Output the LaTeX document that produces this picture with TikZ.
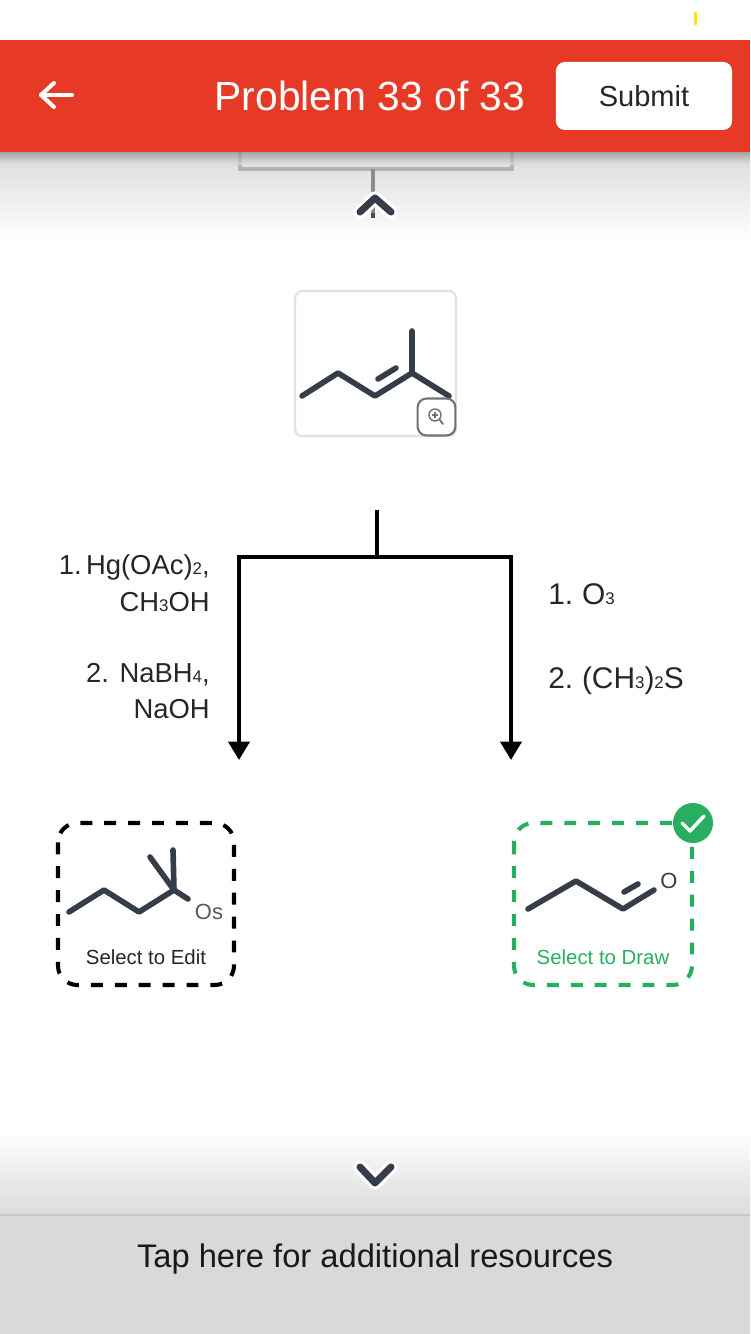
\documentclass[tikz,border=0pt]{standalone}
\usepackage{fontspec}
\setmainfont{Liberation Sans}
\usetikzlibrary{arrows.meta}
\definecolor{hdred}{HTML}{E63A26}
\definecolor{bond}{HTML}{353D49}
\definecolor{okgreen}{HTML}{27AE60}
\newcommand{\lowd}[1]{{\fontsize{9.6pt}{9.6pt}\selectfont #1}}
\tikzset{
  bondline/.style={draw=bond,line width=3.2pt,line cap=round,line join=round},
  treeline/.style={draw=black,line width=2.2pt},
  reagent/.style={font=\fontsize{15.6pt}{15.6pt}\selectfont,inner sep=0pt,text=black!85},
  reagentb/.style={font=\fontsize{17pt}{17pt}\selectfont,inner sep=0pt,text=black!85},
  boxlabel/.style={font=\fontsize{11.6pt}{11.6pt}\selectfont,inner sep=0pt},
  atomlabel/.style={font=\fontsize{12.5pt}{12.5pt}\selectfont,inner sep=0pt,text=bond},
  dashbox/.style={line width=2.3pt,rounded corners=11pt,dash pattern=on 6.8pt off 6.8pt},
  chevron/.style={bondline,line width=4pt},
  chevhalo/.style={draw=white,line width=7.5pt,line cap=round,line join=round}
}
\begin{document}
\begin{tikzpicture}[x=0.02cm,y=-0.02cm]
\useasboundingbox (0,0) rectangle (750,1334);

% fades under the header and above the footer
\shade[top color=black!12,bottom color=white] (0,165) rectangle (750,240);
\shade[top color=white,bottom color=black!14] (0,1130) rectangle (750,1215);
\fill[black!15] (0,1215) rectangle (750,1334);
\draw[draw=blue!10!black!22,line width=1.2pt] (0,1215) -- (750,1215);

% part of the previous step
\draw[draw=black!30,line width=2.2pt] (240,152) -- (240,169) -- (512,169) -- (512,152);
\draw[draw=black!45,line width=2.2pt] (373,169) -- (373,218);
\shade[top color=black!45,bottom color=black!12,opacity=.8] (0,152) rectangle (750,165);

% header
\fill[hdred] (0,40) rectangle (750,152);
\node[font=\fontsize{23.2pt}{23.2pt}\selectfont,text=white,inner sep=0pt] (title) at (370,96) {Problem 33 of 33};
\node[fill=white,rounded corners=5pt,minimum width=100.2pt,minimum height=38.7pt,inner sep=0pt,
  font=\fontsize{16.5pt}{16.5pt}\selectfont,text=black!85] (submit) at (644,96) {Submit};
\coordinate (backa) at (72,95);
\coordinate (backb) at (41,95);
\draw[draw=white,line width=2.3pt,line cap=round,line join=round] (backa) -- (backb);
\draw[draw=white,line width=2.3pt,line cap=round,line join=round] (54,83) -- (backb) -- (54,107);
\fill[yellow!90!orange] (694,12) rectangle (697,25);

% chevrons
\draw[chevhalo] (360,212) -- (375,198) -- (391,212);
\draw[draw=black!70,line width=2.2pt] (373,213) -- (373,218);
\draw[chevron] (360,212) -- (375,198) -- (391,212);
\draw[chevhalo] (360,1167) -- (375,1183) -- (391,1167);
\draw[chevron] (360,1167) -- (375,1183) -- (391,1167);

% starting alkene
\node[draw=black!12,line width=1.2pt,rounded corners=4pt,minimum width=91.5pt,minimum height=82.5pt,inner sep=0pt] (card) at (375.5,363.5) {};
\coordinate (a1) at (302,396);
\coordinate (a2) at (338,373);
\coordinate (a3) at (375,396);
\coordinate (a4) at (412,373);
\coordinate (a5) at (412,331);
\coordinate (a6) at (449,396);
\coordinate (a7) at (378,379);
\coordinate (a8) at (396,368);
\draw[bondline] (a1) -- (a2) -- (a3) -- (a4) -- (a5);
\draw[bondline] (a4) -- (a6);
\draw[bondline] (a7) -- (a8);
\node[draw=black!55,fill=white,line width=1.2pt,rounded corners=5pt,minimum width=21.5pt,minimum height=21pt,inner sep=0pt] (zoombtn) at (436.5,417) {};
\draw[draw=black!55,line width=.8pt] (435,415) circle (6);
\draw[draw=black!55,line width=1pt,line cap=round] (439.5,419.5) -- (443,424);
\draw[draw=black!55,line width=.6pt] (432,415) -- (438,415) (435,412) -- (435,418);

% reaction tree
\coordinate (treetop) at (377,510);
\coordinate (treemid) at (377,557);
\coordinate (treel) at (239,557);
\coordinate (treer) at (511,557);
\coordinate (tipl) at (239,760);
\coordinate (tipr) at (511,760);
\draw[treeline] (treetop) -- (treemid);
\draw[treeline,-{Triangle[length=10.5pt,width=12pt]}] (treemid) -- (treel) -- (tipl);
\draw[treeline,-{Triangle[length=10.5pt,width=12pt]}] (treemid) -- (treer) -- (tipr);

\node[reagent,anchor=base east] (rla) at (210,574) {1.\hspace{2.5pt}Hg(OAc)\lowd{2},};
\node[reagent,anchor=base east] (rlb) at (210,611) {CH\lowd{3}OH};
\node[reagent,anchor=base east] (rlc) at (210,682) {2.\hspace{6pt}NaBH\lowd{4},};
\node[reagent,anchor=base east] (rld) at (210,718) {NaOH};
\node[reagentb,anchor=base west] (rra) at (548,604) {1.\hspace{5pt}O\lowd{3}};
\node[reagentb,anchor=base west] (rrb) at (548,688) {2.\hspace{5pt}(CH\lowd{3})\lowd{2}S};

% left product
\draw[dashbox,draw=black] (58,823) rectangle (234,985);
\coordinate (b1) at (69,912);
\coordinate (b2) at (104,890);
\coordinate (b3) at (139,912);
\coordinate (b4) at (174,890);
\coordinate (b5) at (173,850);
\coordinate (b6) at (150,857);
\coordinate (b7) at (188,899);
\draw[bondline] (b1) -- (b2) -- (b3) -- (b4) -- (b5);
\draw[bondline] (b4) -- (b6);
\draw[bondline] (b4) -- (b7);
\node[atomlabel,text=black!65] (os) at (209,912) {Os};
\node[boxlabel,text=black!85] (edit) at (146,957) {Select to Edit};

% right product
\draw[dashbox,draw=okgreen] (514,823) rectangle (692,985);
\coordinate (c1) at (528,909);
\coordinate (c2) at (576,881);
\coordinate (c3) at (623,909);
\coordinate (c4) at (654,890);
\coordinate (c5) at (624,892);
\coordinate (c6) at (638,884);
\draw[bondline] (c1) -- (c2) -- (c3) -- (c4);
\draw[bondline] (c5) -- (c6);
\node[atomlabel] (oxy) at (669,881) {O};
\node[boxlabel,text=okgreen] (draw) at (603,957) {Select to Draw};
\node[circle,fill=okgreen,minimum size=22.8pt,inner sep=0pt] (done) at (693,823) {};
\draw[draw=white,line width=2pt,line cap=round,line join=round] (682,823) -- (690,831) -- (704,816);

% footer
\node[font=\fontsize{18.6pt}{18.6pt}\selectfont,text=black!90,inner sep=0pt] (tap) at (375,1259) {Tap here for additional resources};
\end{tikzpicture}
\end{document}
